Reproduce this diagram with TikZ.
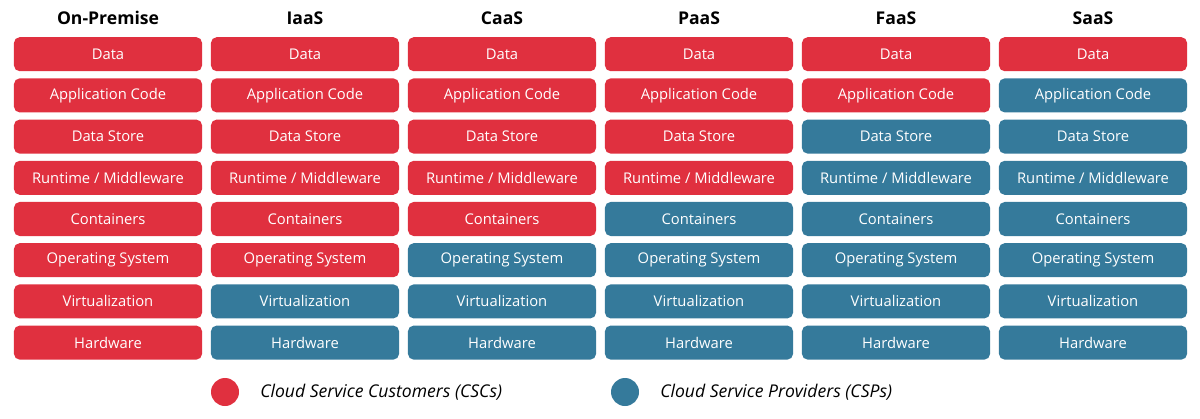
\documentclass[tikz,border=0pt]{standalone}
\usepackage{fontspec}
\setmainfont{Open Sans}
\usetikzlibrary{positioning}
\definecolor{cscred}{HTML}{E0303F}
\definecolor{cspblue}{HTML}{357A9B}
\tikzset{
  layer/.style={rectangle, rounded corners=4pt, minimum width=4.7cm, minimum height=0.85cm,
    text=white, font=\fontsize{10.5}{12}\selectfont, inner sep=0pt},
  header/.style={font=\fontsize{12.5}{14}\selectfont\bfseries},
  dot/.style={circle, minimum size=0.7cm, inner sep=0pt},
  legend/.style={font=\fontsize{12.5}{14}\selectfont\itshape, anchor=west}
}
\begin{document}
\begin{tikzpicture}[x=0.025cm, y=-0.025cm]
		\useasboundingbox (0,0) rectangle (1200,419);
		%headers and layer stacks; the number is how many layers the customer keeps
		\foreach \col/\name/\own in {0/On-Premise/8, 1/IaaS/6, 2/CaaS/5, 3/PaaS/4, 4/FaaS/2, 5/SaaS/1}{
			\node[header] (head\col) at ({108+197*\col}, 18) {\name};
			\foreach \row/\txt in {1/Data, 2/Application Code, 3/Data Store, 4/{Runtime / Middleware},
				5/Containers, 6/Operating System, 7/Virtualization, 8/Hardware}{
				\ifnum\row>\own \def\fillname{cspblue}\else \def\fillname{cscred}\fi
				\node[layer, fill=\fillname] (layer\col-\row) at ({108+197*\col}, {13+41.2*\row}) {\txt};
			}
		}
		
		%legend
		\node[dot, fill=cscred] (csc dot) at (225, 392) {};
		\node[legend, right=0.4cm of csc dot] (csc) {Cloud Service Customers (CSCs)};
		\node[dot, fill=cspblue] (csp dot) at (625, 392) {};
		\node[legend, right=0.4cm of csp dot] (csp) {Cloud Service Providers (CSPs)};
		
		\end{tikzpicture}
\end{document}
